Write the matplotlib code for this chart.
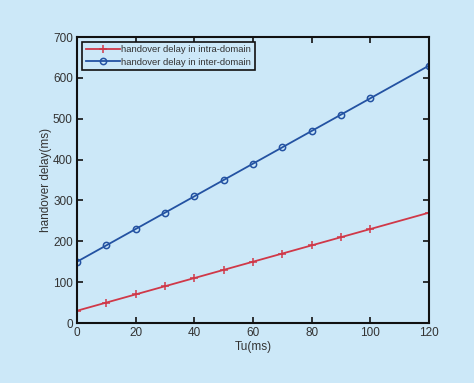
import matplotlib
matplotlib.use("Agg")
import matplotlib.pyplot as plt

plt.rcParams['font.family'] = ['Liberation Sans', 'DejaVu Sans']

tu = [0, 10, 20, 30, 40, 50, 60, 70, 80, 90, 100, 120]
intra = [30, 50, 70, 90, 110, 130, 150, 170, 190, 210, 230, 270]
inter = [150, 190, 230, 270, 310, 350, 390, 430, 470, 510, 550, 630]
xticks = [0, 20, 40, 60, 80, 100, 120]
yticks = [0, 100, 200, 300, 400, 500, 600, 700]

bg = '#cce8f8'
fig = plt.figure(figsize=(4.74, 3.83), dpi=100, facecolor=bg)
ax = fig.add_axes([77/474, 1 - 323/383, (429-77)/474, (323-37)/383])
ax.set_facecolor(bg)

ax.plot(tu, intra, color='#d03848', marker='+', markersize=6, mew=1.1, lw=1.3,
        label='handover delay in intra-domain')
ax.plot(tu, inter, color='#2352a2', marker='o', markersize=4.5, mfc='none', mew=1.1, lw=1.3,
        label='handover delay in inter-domain')

ax.set_xlim(0, 120)
ax.set_ylim(0, 700)
ax.set_xticks(xticks)
ax.set_yticks(yticks)
ax.tick_params(direction='in', length=4, width=1.2, labelsize=8.5, colors='#111111',
               labelcolor='#333333', pad=3, top=True, right=True)
for s in ax.spines.values():
    s.set_linewidth(1.5)
    s.set_color('#111111')
ax.set_xlabel('Tu(ms)', fontsize=8.5, labelpad=1, color='#333333')
ax.set_ylabel('handover delay(ms)', fontsize=8.5, labelpad=1, color='#333333')

leg = ax.legend(loc='upper left', fontsize=6.8, frameon=True, fancybox=False,
                edgecolor='#111111', facecolor=bg, framealpha=1,
                borderpad=0.35, handlelength=3.6, labelspacing=0.35,
                borderaxespad=0.55, handletextpad=0.2)
leg.get_frame().set_linewidth(1.2)
for t in leg.get_texts():
    t.set_color('#333333')

fig.savefig('out.png', dpi=100, facecolor=bg)
